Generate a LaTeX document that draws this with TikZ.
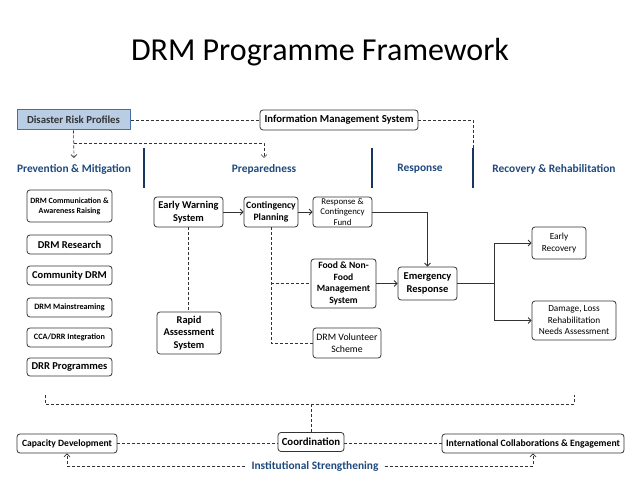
\documentclass[tikz,border=0pt]{standalone}
\usepackage{fontspec}
\setmainfont{Carlito}
\usetikzlibrary{arrows.meta}
\definecolor{hdr}{HTML}{1F497D}
\definecolor{barc}{HTML}{17375E}
\definecolor{drpfill}{HTML}{B9CDE5}
\definecolor{drpline}{HTML}{4A6FA5}
\definecolor{lnc}{HTML}{333333}
\tikzset{
  box/.style={draw=lnc, line width=0.8pt, rounded corners=3pt, fill=white, inner sep=0pt, align=center, text=black},
  bb/.style={font=\bfseries\fontsize{10.5}{12.5}\selectfont},
  sb/.style={font=\bfseries\fontsize{8.2}{10}\selectfont},
  rg/.style={font=\fontsize{9.3}{11.5}\selectfont},
  hdrtext/.style={text=hdr, font=\bfseries\fontsize{11.4}{13}\selectfont, inner sep=1pt},
  dsh/.style={draw=lnc, line width=0.7pt, dash pattern=on 3pt off 2pt},
  sol/.style={draw=lnc, line width=0.8pt},
  arr/.style={-{Straight Barb[length=3pt,width=6pt]}},
  vbar/.style={draw=barc, line width=2.5pt},
}
\begin{document}
\begin{tikzpicture}[x=1pt,y=-1pt]
\useasboundingbox (0,0) rectangle (638,478);
% title
\node (title) at (320,52) {\fontsize{32}{36}\selectfont DRM Programme Framework};
% top row
\node[box, rounded corners=0pt, fill=drpfill, draw=drpline, line width=1pt, minimum width=113pt, minimum height=20pt, font=\bfseries\fontsize{10.8}{12}\selectfont, text=black!80] (drp) at (73.5,120) {Disaster Risk Profiles};
\node[box, minimum width=158pt, minimum height=20pt, font=\bfseries\fontsize{10.7}{12}\selectfont] (ims) at (339,120) {Information Management System};
% headers
\node[hdrtext] (hpm) at (74,169) {Prevention \& Mitigation};
\node[hdrtext] (hpr) at (264,169) {Preparedness};
\node[hdrtext] (hre) at (420,169) {Response};
\node[hdrtext] (hrr) at (554,169) {Recovery \& Rehabilitation};
% bars
\draw[vbar] (144,148) coordinate (b1t) -- (144,188) coordinate (b1b);
\draw[vbar] (372,148) coordinate (b2t) -- (372,188) coordinate (b2b);
\draw[vbar] (473,148) coordinate (b3t) -- (473,188) coordinate (b3b);
% left column
\node[box, minimum width=85pt, minimum height=32pt, font=\bfseries\fontsize{8}{10}\selectfont] (comm) at (69.5,206) {DRM Communication \&\\Awareness Raising};
\node[box, bb, minimum width=85pt, minimum height=19pt] (res) at (69.5,244.5) {DRM Research};
\node[box, bb, minimum width=85pt, minimum height=19pt] (cdrm) at (69.5,275.5) {Community DRM};
\node[box, sb, minimum width=85pt, minimum height=19pt] (main) at (69.5,307.5) {DRM Mainstreaming};
\node[box, sb, minimum width=85pt, minimum height=19pt] (cca) at (69.5,337.5) {CCA/DRR Integration};
\node[box, bb, minimum width=85pt, minimum height=18pt] (drrp) at (69.5,367) {DRR Programmes};
% preparedness
\node[box, minimum width=69pt, minimum height=30pt, font=\bfseries\fontsize{10.4}{12.5}\selectfont] (ews) at (188.5,212) {Early Warning\\System};
\node[box, font=\bfseries\fontsize{9.7}{12}\selectfont, minimum width=54pt, minimum height=30pt] (cp) at (271,212) {Contingency\\Planning};
\node[box, minimum width=64pt, minimum height=42pt, font=\bfseries\fontsize{10.4}{12.5}\selectfont] (ras) at (189,333) {Rapid\\Assessment\\System};
\node[box, font=\fontsize{8.8}{10.5}\selectfont, minimum width=59pt, minimum height=30pt] (rcf) at (342.5,212) {Response \&\\Contingency\\Fund};
\node[box, font=\bfseries\fontsize{9.6}{11.7}\selectfont, minimum width=65pt, minimum height=49pt] (food) at (343.5,283.5) {Food \& Non-\\Food\\Management\\System};
\node[box, rg, font=\fontsize{9.8}{11.5}\selectfont, minimum width=68pt, minimum height=30pt] (vol) at (347,343) {DRM Volunteer\\Scheme};
% response
\node[box, minimum width=59pt, minimum height=33pt, font=\bfseries\fontsize{10.5}{13}\selectfont] (er) at (427.5,283.5) {Emergency\\Response};
% recovery
\node[box, rg, minimum width=54pt, minimum height=32pt] (erec) at (559,243) {Early\\Recovery};
\node[box, rg, minimum width=84pt, minimum height=39pt] (dl) at (574,320.5) {Damage, Loss\\Rehabilitation\\Needs Assessment};
% bottom
\node[box, minimum width=66pt, minimum height=19pt, font=\bfseries\fontsize{10.8}{12}\selectfont] (coord) at (311,442) {Coordination};
\node[box, font=\bfseries\fontsize{9.6}{11}\selectfont, minimum width=100pt, minimum height=19pt] (cap) at (67,443.5) {Capacity Development};
\node[box, font=\bfseries\fontsize{9.7}{11}\selectfont, minimum width=182pt, minimum height=19pt] (intl) at (533,443.5) {International Collaborations \& Engagement};
\node[hdrtext, inner xsep=6pt] (inst) at (315,466) {Institutional Strengthening};
% top connectors
\draw[dsh] (drp.east) -- (ims.west);
\draw[dsh] (ims.east) -| (b3t);
\coordinate (pmarr) at (74,158);
\coordinate (prarr) at (264,158);
\coordinate (brk) at (74,143);
\draw[dsh,arr] (drp.south) -- (pmarr);
\draw[dsh,arr] (brk) -| (prarr);
% preparedness connectors
\draw[sol,arr] (ews.east) -- (cp.west);
\draw[sol,arr] (cp.east) -- (rcf.west);
\draw[dsh] (ews.south) -- (ews.south |- ras.north);
\coordinate (cpj) at (cp.south |- food.west);
\draw[dsh] (cp.south) |- (vol.west);
\draw[dsh] (cpj) -- (food.west);
\draw[sol,arr] (rcf.east) -| (er.north);
\draw[sol,arr] (food.east) -- (er.west);
% response to recovery
\coordinate (j) at (494,283.5);
\draw[sol] (er.east) -- (j);
\draw[sol,arr] (j) |- (erec.west);
\draw[sol,arr] (j) |- (dl.west);
% bottom connectors
\coordinate (bl) at (45,395);
\coordinate (blc) at (45,404);
\coordinate (brc) at (574,404);
\coordinate (br) at (574,395);
\draw[dsh] (bl) -- (blc) -- (brc) -- (br);
\draw[dsh] (coord.north |- blc) -- (coord.north);
\draw[dsh] (cap.east) -- (cap.east -| coord.west);
\draw[dsh] (coord.east |- intl.west) -- (intl.west);
\draw[dsh,arr] (inst.west) -| (cap.south);
\draw[dsh,arr] (inst.east) -| (intl.south);
\end{tikzpicture}
\end{document}
